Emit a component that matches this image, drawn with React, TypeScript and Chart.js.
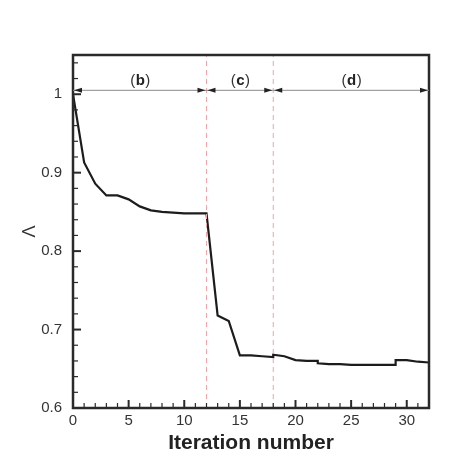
import { useEffect, useRef } from 'react';
import Chart from 'chart.js/auto';

// convergence history
const iterations = [0, 1, 2, 3, 4, 5, 6, 7, 8, 9, 10, 11, 12, 13, 14, 15, 16, 17, 18, 18, 19, 20, 21, 22, 22, 23, 24, 25, 26, 27, 28, 29, 29, 30, 31, 32];
const lambdaValues = [1.0, 0.913, 0.886, 0.871, 0.871, 0.866, 0.857, 0.852, 0.85, 0.849, 0.848, 0.848, 0.848, 0.718, 0.711, 0.667, 0.667, 0.666, 0.665, 0.668, 0.666, 0.661, 0.66, 0.66, 0.657, 0.656, 0.656, 0.655, 0.655, 0.655, 0.655, 0.655, 0.661, 0.661, 0.659, 0.658];

// phase boundaries and labels
const phaseBreaks = [12, 18];
const phaseStarts = [0, 12, 18];
const phaseEnds = [12, 18, 32];
const phaseLabels = ['b', 'c', 'd'];
const arrowLevel = 1.005;
const phaseLabelLevel = 1.017;

const xMin = 0;
const xMax = 32;
const yMin = 0.6;
const yMax = 1.05;
const xTickLabels = [0, 5, 10, 15, 20, 25, 30];
const yTickLabels = [0.6, 0.7, 0.8, 0.9, 1];

const FONT = '"Liberation Sans", Arial, Helvetica, sans-serif';

const frameAndMarks = {
  id: 'frameAndMarks',
  afterDraw(chart: any) {
    const { ctx, chartArea: a, scales } = chart;
    const x = scales.x;
    const y = scales.y;
    ctx.save();

    // minor / major ticks pointing inward
    ctx.strokeStyle = '#2a2a2a';
    for (let i = 0; i <= 22; i++) {
      const v = yMin + i * 0.02;
      const py = y.getPixelForValue(v);
      const len = i % 5 === 0 ? 8 : 5;
      ctx.beginPath();
      ctx.moveTo(a.left, py);
      ctx.lineTo(a.left + len, py);
      ctx.lineWidth = i % 5 === 0 ? 2 : 1.2;
      ctx.stroke();
    }
    for (let i = xMin; i <= xMax; i++) {
      const px = x.getPixelForValue(i);
      const len = i % 5 === 0 ? 8 : 5;
      ctx.beginPath();
      ctx.moveTo(px, a.bottom);
      ctx.lineTo(px, a.bottom - len);
      ctx.lineWidth = i % 5 === 0 ? 2 : 1.2;
      ctx.stroke();
    }

    // frame
    ctx.lineWidth = 2.5;
    ctx.strokeRect(a.left, a.top, a.right - a.left, a.bottom - a.top);

    // phase arrows
    const ay = y.getPixelForValue(arrowLevel);
    const ly = y.getPixelForValue(phaseLabelLevel);
    phaseStarts.forEach((s, i) => {
      const x0 = x.getPixelForValue(s);
      const x1 = x.getPixelForValue(phaseEnds[i]);
      ctx.strokeStyle = '#8a8a8a';
      ctx.lineWidth = 1;
      ctx.beginPath();
      ctx.moveTo(x0, ay);
      ctx.lineTo(x1, ay);
      ctx.stroke();
      ctx.fillStyle = '#222';
      ctx.beginPath();
      ctx.moveTo(x0 + 1, ay);
      ctx.lineTo(x0 + 9, ay - 2.5);
      ctx.lineTo(x0 + 9, ay + 2.5);
      ctx.closePath();
      ctx.fill();
      ctx.beginPath();
      ctx.moveTo(x1 - 1, ay);
      ctx.lineTo(x1 - 9, ay - 2.5);
      ctx.lineTo(x1 - 9, ay + 2.5);
      ctx.closePath();
      ctx.fill();

      // label "(b)" with a bold letter
      const cx = (x0 + x1) / 2;
      const normal = `15px ${FONT}`;
      const bold = `bold 15px ${FONT}`;
      ctx.font = normal;
      const wp = ctx.measureText('(').width;
      const wq = ctx.measureText(')').width;
      ctx.font = bold;
      const wl = ctx.measureText(phaseLabels[i]).width;
      let tx = cx - (wp + wl + wq) / 2;
      ctx.fillStyle = '#333';
      ctx.textBaseline = 'middle';
      ctx.textAlign = 'left';
      ctx.font = normal;
      ctx.fillText('(', tx, ly);
      tx += wp + 0.5;
      ctx.font = bold;
      ctx.fillStyle = '#222';
      ctx.fillText(phaseLabels[i], tx, ly);
      tx += wl + 0.5;
      ctx.font = normal;
      ctx.fillStyle = '#333';
      ctx.fillText(')', tx, ly);
    });
    ctx.restore();
  },
};

const App = () => {
  const canvasRef = useRef<HTMLCanvasElement>(null);

  useEffect(() => {
    if (!canvasRef.current) return;
    const points = iterations.map((it, i) => ({ x: it, y: lambdaValues[i] }));
    const breakSets = phaseBreaks.map((b) => ({
      data: [
        { x: b, y: yMin },
        { x: b, y: yMax },
      ],
      borderColor: '#f2a3a3',
      borderWidth: 1,
      borderDash: [5, 4],
      pointRadius: 0,
    }));

    const chart = new Chart(canvasRef.current, {
      type: 'line',
      data: {
        datasets: [
          ...breakSets,
          {
            data: points,
            borderColor: '#1c1c1c',
            borderWidth: 2.2,
            pointRadius: 0,
            tension: 0,
          },
        ],
      },
      options: {
        animation: false,
        responsive: true,
        maintainAspectRatio: false,
        layout: { padding: { top: 55, right: 45, left: 0, bottom: 0 } },
        plugins: { legend: { display: false }, tooltip: { enabled: false } },
        scales: {
          x: {
            type: 'linear',
            min: xMin,
            max: xMax,
            grid: { display: false },
            border: { display: false },
            afterBuildTicks: (s: any) => {
              s.ticks = xTickLabels.map((v) => ({ value: v }));
            },
            afterFit: (s: any) => {
              s.height = 66;
            },
            ticks: {
              padding: -4,
              maxRotation: 0,
              autoSkip: false,
              color: '#333',
              font: { family: FONT, size: 15 },
              callback: (v: any) => String(v),
            },
            title: {
              display: true,
              text: 'Iteration number',
              color: '#222',
              font: { family: FONT, size: 21, weight: 'bold' },
              padding: { top: 0, bottom: 18 },
            },
          },
          y: {
            type: 'linear',
            min: yMin,
            max: yMax,
            grid: { display: false },
            border: { display: false },
            afterBuildTicks: (s: any) => {
              s.ticks = yTickLabels.map((v) => ({ value: v }));
            },
            afterFit: (s: any) => {
              s.width = 73;
            },
            ticks: {
              padding: 3,
              autoSkip: false,
              color: '#333',
              font: { family: FONT, size: 15 },
              callback: (v: any) => String(Math.round(v * 10) / 10),
            },
            title: {
              display: true,
              text: 'Λ',
              color: '#333',
              font: { family: FONT, size: 18 },
              padding: 19,
            },
          },
        },
      },
      plugins: [frameAndMarks],
    });

    return () => chart.destroy();
  }, []);

  return (
    <div style={{ position: 'fixed', left: 0, top: 0, width: 474, height: 474, background: '#fff' }}>
      <canvas ref={canvasRef} />
    </div>
  );
};

export default App;
